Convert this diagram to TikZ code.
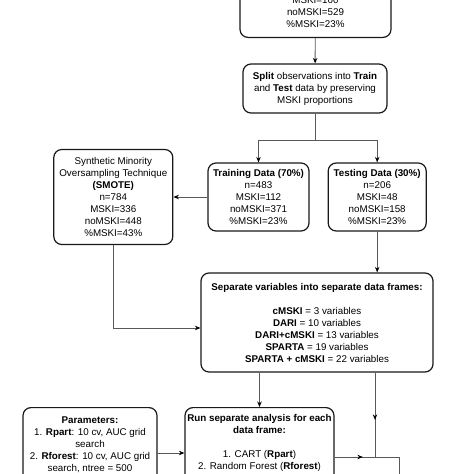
\documentclass[tikz,border=0pt]{standalone}
\usepackage{fontspec}
\setmainfont{Liberation Sans}
\usetikzlibrary{positioning,arrows.meta,decorations.markings}

\begin{document}
\begin{tikzpicture}[
    x=1pt, y=-1pt,
    >={Stealth[length=5.5pt,width=4.5pt,color=black]},
    every node/.style={font=\fontsize{9.8}{12}\selectfont},
    box/.style={draw=black!90, line width=1.2pt, rounded corners=8pt,
        align=center, inner xsep=2pt, inner ysep=0pt},
    link/.style={draw=black!65, line width=0.9pt},
    midarrow/.style={link, postaction={decorate},
        decoration={markings, mark=at position #1 with {\arrow{>}}}},
    midarrow/.default=0.5
]

% Frame of the picture
\useasboundingbox (0,0) rectangle (474,474);
\clip (0,0) rectangle (474,474);

% Whole data set (top, cut off)
\node[box, anchor=south, minimum width=151pt, inner ysep=10pt] (total) at (315.5,38)
    {\rule{0pt}{45pt}MSKI=160\\noMSKI=529\\\%MSKI=23\%};

% Split step
\node[box, minimum width=144pt, minimum height=49pt] (split) at (315,88.5)
    {\textbf{Split} observations into \textbf{Train}\\and \textbf{Test} data by preserving\\MSKI proportions};
\draw[link,->] (total) -- (split);

% Training and testing data
\node[box, minimum width=101pt, minimum height=68pt] (train) at (258.5,197)
    {\textbf{Training Data (70\%)}\\n=483\\MSKI=112\\noMSKI=371\\\%MSKI=23\%};
\node[box, minimum width=98pt, minimum height=68pt, right=18pt of train] (test)
    {\textbf{Testing Data (30\%)}\\n=206\\MSKI=48\\noMSKI=158\\\%MSKI=23\%};

\coordinate (fork) at (315,140);
\draw[link] (split) -- (fork);
\draw[link,->] (fork) -| (train);
\draw[link,->] (fork) -| (test);

% Oversampling of the training data
\node[box, minimum width=119pt, minimum height=95pt, left=34pt of train] (smote)
    {Synthetic Minority\\Oversampling Technique\\\textbf{(SMOTE)}\\n=784\\MSKI=336\\noMSKI=448\\\%MSKI=43\%};
\draw[link,->] (train.west) -- (smote.east |- train.west);

% Data frames
\node[box, minimum width=232pt, minimum height=99pt] (sep) at (317,322.5)
    {\textbf{Separate variables into separate data frames:}\\[12pt]
     \textbf{cMSKI} = 3 variables\\
     \textbf{DARI} = 10 variables\\
     \textbf{DARI+cMSKI} = 13 variables\\
     \textbf{SPARTA} = 19 variables\\
     \textbf{SPARTA + cMSKI} = 22 variables};
\draw[link,->] (smote) |- (sep.west |- 0,328);
\draw[link,->] (test) -- (test |- sep.north);

% Analysis and its parameters (bottom, cut off)
\node[box, anchor=north, minimum width=149pt, inner ysep=7pt] (run) at (259.5,407)
    {\textbf{Run separate analysis for each}\\\textbf{data frame:}\\[12pt]
     1. CART (\textbf{Rpart})\\2. Random Forest (\textbf{Rforest})\rule[-40pt]{0pt}{0pt}};
\node[box, anchor=north, minimum width=134pt, inner ysep=9.5pt] (params) at (90,407)
    {\textbf{Parameters:}\\1. \textbf{Rpart}: 10 cv, AUC grid\\search\\
     2. \textbf{Rforest}: 10 cv, AUC grid\\search, ntree = 500\rule[-40pt]{0pt}{0pt}};
\draw[link,->] (sep.south -| run.north) -- (run);
\draw[link,->] (params.east |- 0,453) -- (run.west |- 0,453);

% Outputs joining towards the next step
\coordinate (merge) at (375,457);
\coordinate (outturn) at (399,457);
\coordinate (outend) at (399,490);
\draw[midarrow=0.56] (sep.south -| merge) -- (merge);
\draw[midarrow=0.29] (run.east |- merge) -- (outturn) -- (outend);

\end{tikzpicture}
\end{document}
